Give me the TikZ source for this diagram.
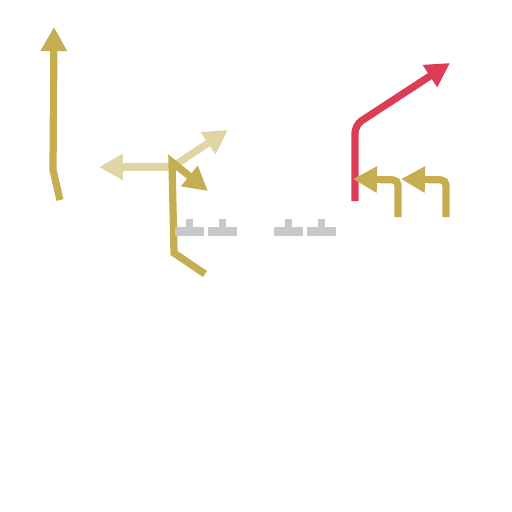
\documentclass[tikz,border=0pt]{standalone}
\usetikzlibrary{arrows.meta}
\definecolor{gold}{HTML}{C5AE52}
\definecolor{tan}{HTML}{E0D5A5}
\definecolor{rred}{HTML}{DC3C55}
\definecolor{gry}{HTML}{C8C8C8}
\begin{document}
\begin{tikzpicture}[x=0.02cm,y=-0.02cm,
  route/.style={line width=0.145cm, line cap=butt, -{Triangle[length=0.48cm,width=0.5cm]}},
  blk/.style={fill=gry, draw=none}]
\useasboundingbox (0,0) rectangle (512,512);
% coordinates
\coordinate (l0) at (60,200);
\coordinate (l1) at (53,170);
\coordinate (l2) at (54,27);
\coordinate (m0) at (172,167);
\coordinate (mt1) at (99,167);
\coordinate (mt2) at (228,130);
\coordinate (g0) at (205,274);
\coordinate (g1) at (174,253);
\coordinate (g2) at (172,162);
\coordinate (g3) at (208,191);
\coordinate (r0) at (355,201);
\coordinate (r1) at (355,125);
\coordinate (r2) at (450,63);
\coordinate (a0) at (398,217);
\coordinate (a1) at (398,180);
\coordinate (a2) at (353,179);
\coordinate (b0) at (446,217);
\coordinate (b1) at (446,180);
\coordinate (b2) at (401,179);
% left route
\draw[route, gold] (l0) -- (l1) -- (l2);
% tan routes
\draw[route, tan] (m0) -- (mt1);
\draw[route, tan] (m0) -- (mt2);
% gold middle
\draw[route, gold, miter limit=10] (g0) -- (g1) -- (g2) -- (g3);
% red
\draw[route, rred, rounded corners=0.16cm] (r0) -- (r1) -- (r2);
% hooks
\draw[route, gold, rounded corners=0.1cm] (a0) -- (a1) -- (a2);
\draw[route, gold, rounded corners=0.1cm] (b0) -- (b1) -- (b2);
% blocks
\foreach \cx in {190,223,289,322}{
  \fill[blk] (\cx-14.5,227) rectangle (\cx+14.5,236);
  \fill[blk] (\cx-3.5,219) rectangle (\cx+3.5,227.5);
}
\end{tikzpicture}
\end{document}
